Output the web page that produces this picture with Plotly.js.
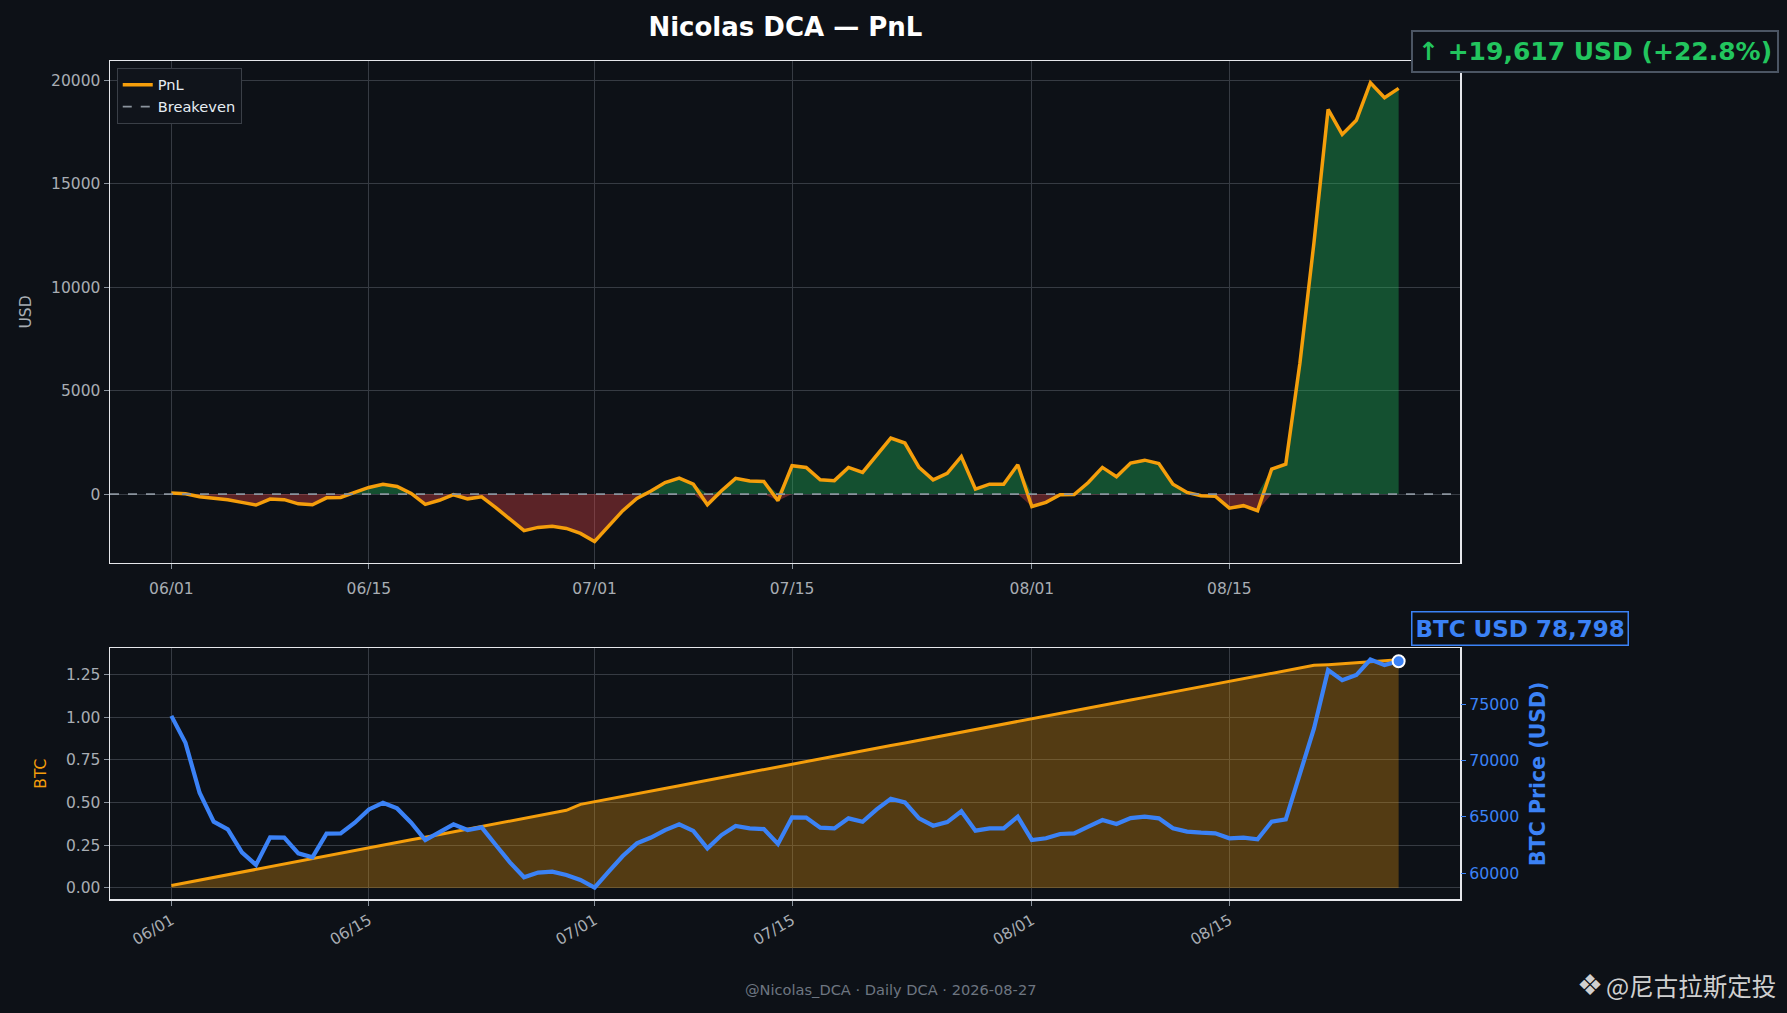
<!DOCTYPE html>
<html>
<head>
<meta charset="utf-8">
<script src="https://cdn.plot.ly/plotly-3.0.1.min.js"></script>
<style>
  html, body { margin: 0; padding: 0; background: #0d1117; }
  #chart { width: 1787px; height: 1013px; }
</style>
</head>
<body>
<div id="chart"></div>
<script>
// ---- Data ----
const nDays = 88;
const dates = [];
for (let i = 0; i < nDays; i++) {
  const d = new Date(Date.UTC(2026, 5, 1 + i));
  dates.push(d.toISOString().slice(0, 10));
}

const pnl = [
  50, 20, -130, -210, -270, -400, -530, -240, -270, -470,
  -520, -180, -160, 80, 320, 470, 370, 30, -500, -300,
  -30, -230, -130, -650, -1210, -1770, -1610, -1560, -1660, -1900,
  -2290, -1530, -800, -210, 150, 560, 770, 480, -520, 160,
  760, 630, 610, -320, 1370, 1290, 690, 650, 1290, 1050,
  1850, 2710, 2470, 1290, 690, 1000, 1820, 240, 480, 480,
  1420, -600, -400, -30, -20, 560, 1290, 840, 1500, 1640,
  1480, 480, 80, -80, -100, -680, -560, -800, 1210, 1450,
  6330, 12170, 18600, 17390, 18070, 19890, 19160, 19617
];

const btcPrice = [
  73950, 71560, 67140, 64570, 63890, 61860, 60740, 63190, 63160, 61770,
  61420, 63510, 63540, 64480, 65660, 66250, 65750, 64480, 62950, 63600,
  64340, 63830, 64070, 62510, 60970, 59650, 60060, 60150, 59850, 59410,
  58730, 60150, 61530, 62650, 63170, 63830, 64340, 63750, 62210, 63390,
  64190, 63980, 63920, 62600, 64960, 64930, 64040, 63980, 64870, 64570,
  65660, 66610, 66280, 64870, 64220, 64540, 65490, 63780, 63980, 63980,
  65010, 62950, 63100, 63480, 63540, 64130, 64720, 64370, 64890, 65020,
  64870, 63990, 63690, 63600, 63540, 63100, 63160, 63010, 64580, 64780,
  68860, 72840, 78010, 77120, 77570, 78950, 78450, 78798
];

const btcHeld = [
  0.014, 0.030, 0.045, 0.061, 0.077, 0.093, 0.108, 0.124, 0.140, 0.156,
  0.171, 0.187, 0.203, 0.219, 0.234, 0.250, 0.266, 0.282, 0.297, 0.313,
  0.329, 0.345, 0.360, 0.376, 0.392, 0.408, 0.423, 0.439, 0.455, 0.490,
  0.505, 0.521, 0.536, 0.552, 0.568, 0.584, 0.599, 0.615, 0.631, 0.646,
  0.662, 0.678, 0.693, 0.709, 0.725, 0.741, 0.756, 0.772, 0.788, 0.803,
  0.819, 0.835, 0.850, 0.866, 0.882, 0.898, 0.913, 0.929, 0.945, 0.960,
  0.976, 0.992, 1.007, 1.023, 1.039, 1.055, 1.070, 1.086, 1.102, 1.117,
  1.133, 1.149, 1.164, 1.180, 1.196, 1.212, 1.227, 1.243, 1.259, 1.274,
  1.290, 1.305, 1.309, 1.315, 1.321, 1.327, 1.332, 1.338
];

const tickDates = ['2026-06-01', '2026-06-15', '2026-07-01', '2026-07-15', '2026-08-01', '2026-08-15'];
const tickLabels = ['06/01', '06/15', '07/01', '07/15', '08/01', '08/15'];
const pnlTicks = [0, 5000, 10000, 15000, 20000];
const btcTicks = [0, 0.25, 0.5, 0.75, 1.0, 1.25];
const priceTicks = [60000, 65000, 70000, 75000];

const titleText = 'Nicolas DCA — PnL';
const pnlLabel = '↑ +19,617 USD (+22.8%)';
const priceLabel = 'BTC USD 78,798';
const footerText = '@Nicolas_DCA · Daily DCA · 2026-08-27';
const watermarkText = '@尼古拉斯定投';

// ---- Styles ----
const BG = '#0d1117';
const ORANGE = '#f59e0b';
const BLUE = '#3b82f6';
const GREEN = '#22c55e';
const GRID = '#363b43';
const TICKTXT = '#a8adb3';
const SPINE = '#e5e7eb';
const FONT = 'DejaVu Sans, sans-serif';

const pnlPos = pnl.map(v => Math.max(v, 0));
const pnlNeg = pnl.map(v => Math.min(v, 0));
const last = nDays - 1;

const traces = [
  { x: dates, y: pnlPos, xaxis: 'x', yaxis: 'y', type: 'scatter', mode: 'lines',
    line: { width: 0, color: 'rgba(0,0,0,0)' }, fill: 'tozeroy',
    fillcolor: 'rgba(34,197,94,0.35)', showlegend: false, hoverinfo: 'skip' },
  { x: dates, y: pnlNeg, xaxis: 'x', yaxis: 'y', type: 'scatter', mode: 'lines',
    line: { width: 0, color: 'rgba(0,0,0,0)' }, fill: 'tozeroy',
    fillcolor: 'rgba(239,68,68,0.35)', showlegend: false, hoverinfo: 'skip' },
  { x: dates, y: pnl, xaxis: 'x', yaxis: 'y', type: 'scatter', mode: 'lines',
    name: 'PnL', line: { color: ORANGE, width: 3.5 }, legendrank: 1 },
  { x: dates, y: btcHeld, xaxis: 'x2', yaxis: 'y2', type: 'scatter', mode: 'lines',
    line: { color: ORANGE, width: 3 }, fill: 'tozeroy',
    fillcolor: 'rgba(245,158,11,0.30)', showlegend: false },
  { x: dates, y: btcPrice, xaxis: 'x2', yaxis: 'y3', type: 'scatter', mode: 'lines',
    line: { color: BLUE, width: 4.2 }, showlegend: false },
  { x: [dates[last]], y: [btcPrice[last]], xaxis: 'x2', yaxis: 'y3', type: 'scatter', mode: 'markers',
    marker: { color: BLUE, size: 12, line: { color: '#ffffff', width: 2 } }, showlegend: false }
];

const xCommon = {
  type: 'date',
  range: ['2026-05-27 15:36', '2026-08-31 08:24'],
  tickmode: 'array', tickvals: tickDates, ticktext: tickLabels,
  showgrid: true, gridcolor: GRID, gridwidth: 1,
  ticks: 'outside', ticklen: 5, tickwidth: 1, tickcolor: '#8b949e',
  tickfont: { family: FONT, size: 15.5, color: TICKTXT },
  showline: true, mirror: true, linecolor: SPINE, linewidth: 1.5,
  zeroline: false
};

const layout = {
  width: 1787, height: 1013,
  paper_bgcolor: BG, plot_bgcolor: BG,
  font: { family: FONT, color: TICKTXT },
  margin: { l: 110, r: 327, t: 61, b: 114, pad: 0 },
  title: { text: '<b>' + titleText + '</b>', font: { family: FONT, size: 26, color: '#ffffff' },
           x: 0.4395, xref: 'container', xanchor: 'center', y: 0.973, yref: 'container', yanchor: 'middle' },
  showlegend: true,
  legend: { x: 0.005, y: 0.992, xanchor: 'left', yanchor: 'top', xref: 'paper', yref: 'paper',
            bgcolor: '#10141b', bordercolor: '#3a3f47', borderwidth: 1,
            font: { family: FONT, size: 14.6, color: '#e6edf3' }, tracegroupgap: 0 },
  xaxis: Object.assign({}, xCommon, { domain: [0, 1], anchor: 'y', ticklabelstandoff: 6 }),
  xaxis2: Object.assign({}, xCommon, { domain: [0, 1], anchor: 'y2', matches: 'x', tickangle: -30 }),
  yaxis: {
    domain: [0.401, 1], anchor: 'x', range: [-3330, 20940],
    tickmode: 'array', tickvals: pnlTicks, tickformat: 'd',
    showgrid: true, gridcolor: GRID, zeroline: false,
    ticks: 'outside', ticklen: 5, tickcolor: '#8b949e',
    tickfont: { family: FONT, size: 15.5, color: TICKTXT },
    showline: true, mirror: true, linecolor: SPINE, linewidth: 1.5,
    title: { text: 'USD', font: { family: FONT, size: 15.5, color: TICKTXT }, standoff: 15 }
  },
  yaxis2: {
    domain: [0, 0.299], anchor: 'x2', range: [-0.065, 1.404],
    tickmode: 'array', tickvals: btcTicks, tickformat: '.2f',
    showgrid: true, gridcolor: GRID, zeroline: false,
    ticks: 'outside', ticklen: 5, tickcolor: '#8b949e',
    tickfont: { family: FONT, size: 15.5, color: TICKTXT },
    showline: true, mirror: true, linecolor: SPINE, linewidth: 1.5,
    title: { text: 'BTC', font: { family: FONT, size: 15.5, color: ORANGE }, standoff: 15 }
  },
  yaxis3: {
    overlaying: 'y2', side: 'right', anchor: 'x2', range: [57720, 79930],
    tickmode: 'array', tickvals: priceTicks, tickformat: 'd',
    showgrid: false, zeroline: false,
    ticks: 'outside', ticklen: 5, tickcolor: BLUE,
    tickfont: { family: FONT, size: 15.8, color: BLUE },
    showline: false,
    title: { text: '<b>BTC Price (USD)</b>', font: { family: FONT, size: 20.5, color: BLUE }, standoff: 12 }
  },
  shapes: [
    { type: 'line', xref: 'paper', x0: 0, x1: 1, yref: 'y', y0: 0, y1: 0,
      line: { color: '#8b949e', width: 1.6, dash: 'dash' }, layer: 'above',
      showlegend: true, name: 'Breakeven', legendrank: 2 }
  ],
  annotations: [
    { xref: 'paper', yref: 'paper', x: 1.1, y: 1.0113, xanchor: 'center', yanchor: 'middle',
      text: '<b>' + pnlLabel + '</b>', showarrow: false,
      font: { family: FONT, size: 25, color: GREEN },
      bgcolor: BG, bordercolor: '#4b5563', borderwidth: 2, borderpad: 5 },
    { xref: 'paper', yref: 'paper', x: 1.0441, y: 0.3222, xanchor: 'center', yanchor: 'middle',
      text: '<b>' + priceLabel + '</b>', showarrow: false,
      font: { family: FONT, size: 23, color: BLUE },
      bgcolor: BG, bordercolor: BLUE, borderwidth: 1.5, borderpad: 3 },
    { xref: 'paper', yref: 'paper', x: 0.5785, y: -0.1074, xanchor: 'center', yanchor: 'middle',
      text: footerText, showarrow: false,
      font: { family: FONT, size: 14.6, color: '#6e7681' } },
    { xref: 'paper', yref: 'paper', x: 1.0965, y: -0.1025, xanchor: 'center', yanchor: 'middle',
      text: '❖', showarrow: false,
      font: { family: FONT, size: 29, color: '#d0d0d0' } },
    { xref: 'paper', yref: 'paper', x: 1.2356, y: -0.1038, xanchor: 'right', yanchor: 'middle',
      text: watermarkText, showarrow: false,
      font: { family: 'Noto Sans CJK SC, sans-serif', size: 24.5, color: '#d0d0d0' } }
  ]
};

Plotly.newPlot('chart', traces, layout, { displayModeBar: false, staticPlot: true });
</script>
</body>
</html>
